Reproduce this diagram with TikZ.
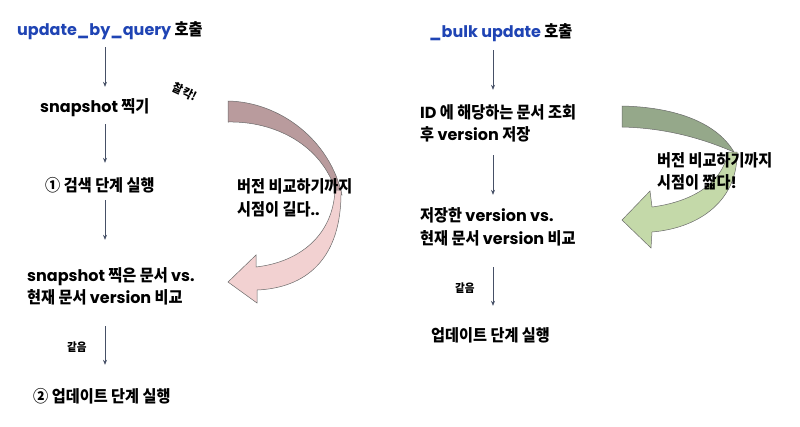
\documentclass[tikz,border=0pt]{standalone}
\usepackage{fontspec}
\setmainfont{Poppins}
\newfontfamily\kr{Noto Sans CJK KR}[FakeStretch=0.92]
\usetikzlibrary{arrows.meta}
\definecolor{qblue}{HTML}{1F44B4}
\definecolor{arrowc}{HTML}{465066}
\definecolor{mauve}{HTML}{B99B9D}
\definecolor{pinkl}{HTML}{F2D1D1}
\definecolor{greend}{HTML}{95A88A}
\definecolor{greenl}{HTML}{C4D9A9}
\definecolor{edgec}{HTML}{6A6A6A}
\newcommand{\hg}[1]{{\kr\fontsize{16.5}{19}\selectfont #1}}
\newcommand{\hs}[1]{{\kr #1}}
\begin{document}
\begin{tikzpicture}[x=1pt,y=-1pt,
  txt/.style={anchor=base west, inner sep=0pt, text height=13pt, text depth=4pt,
    font=\fontsize{16}{19}\selectfont\bfseries, text=black},
  small/.style={anchor=base west, inner sep=0pt, font=\fontsize{11.5}{13}\selectfont\bfseries, text=black},
  flow/.style={draw=arrowc, line width=0.6pt, -{Stealth[length=5pt,width=4pt]}},
  band/.style={draw=edgec, line width=0.5pt, line join=miter}]
\useasboundingbox (0,0) rectangle (800,426);
\coordinate (lx) at (105,0);
\coordinate (rx) at (493,0);

% ---------- curved arrows ----------
% left (mauve / pink)
\path[band, fill=mauve] (228,101) .. controls (280,102) and (330,140) .. (342,195)
  -- (336,192) .. controls (322,145) and (275,121) .. (228,122) -- cycle;
\path[band, fill=pinkl] (341,190) .. controls (342,260) and (305,288) .. (257,290)
  -- (257,303) -- (228,282) -- (256,255) -- (256,267)
  .. controls (300,262) and (333,235) .. (335,190) -- cycle;
% right (green)
\path[band, fill=greend] (622,106) .. controls (670,107) and (715,120) .. (734,152)
  -- (729,150) .. controls (700,138) and (665,128) .. (622,127) -- cycle;
\path[band, fill=greenl] (737,152) .. controls (738,200) and (700,228) .. (652,232)
  -- (651,248) -- (622,220) -- (650,191) -- (652,207)
  .. controls (690,202) and (722,185) .. (728,152) -- cycle;

% ---------- left column ----------
\node[txt] (t1) at (17,35) {\textcolor{qblue}{update\_by\_query} \hg{호출}};
\node[txt] (t2) at (40,112) {snapshot \hg{찍기}};
\node[txt] (t3) at (45,191) {\hg{① 검색 단계 실행}};
\node[txt] (t4a) at (27,281) {snapshot \hg{찍은 문서} vs.};
\node[txt] (t4b) at (27,303) {\hg{현재 문서} version \hg{비교}};
\node[txt] (t5) at (33,402) {\hg{② 업데이트 단계 실행}};
\node[small] (s1) at (67,351) {\hs{같음}};
\node[small, anchor=center, rotate=-25, font=\fontsize{12}{14}\selectfont\bfseries] (click) at (185,92) {\hs{찰칵!}};
\node[txt] (n1a) at (237,192) {\hg{버전 비교하기까지}};
\node[txt] (n1b) at (237,215) {\hg{시점이 길다}..};

\draw[flow, shorten <=8pt, shorten >=12pt] (t1.south -| lx) -- (t2.north -| lx);
\draw[flow, shorten <=8pt, shorten >=15pt] (t2.south -| lx) -- (t3.north -| lx);
\draw[flow, shorten <=5pt, shorten >=28pt] (t3.south -| lx) -- (t4a.north -| lx);
\draw[flow, shorten <=19pt, shorten >=24pt] (t4b.south -| lx) -- (t5.north -| lx);

% ---------- right column ----------
\node[txt] (r1) at (429,37) {\textcolor{qblue}{\_bulk update} \hg{호출}};
\node[txt] (r2a) at (420,118) {ID \hg{에 해당하는 문서 조회}};
\node[txt] (r2b) at (420,140) {\hg{후} version \hg{저장}};
\node[txt] (r3a) at (420,221) {\hg{저장한} version vs.};
\node[txt] (r3b) at (420,244) {\hg{현재 문서} version \hg{비교}};
\node[txt] (r4) at (431,341) {\hg{업데이트 단계 실행}};
\node[small] (s2) at (455,292) {\hs{같음}};
\node[txt] (n2a) at (657,166) {\hg{버전 비교하기까지}};
\node[txt] (n2b) at (657,188) {\hg{시점이 짧다}!};

\draw[flow, shorten <=9pt, shorten >=15pt] (r1.south -| rx) -- (r2a.north -| rx);
\draw[flow, shorten <=11pt, shorten >=13pt] (r2b.south -| rx) -- (r3a.north -| rx);
\draw[flow, shorten <=19pt, shorten >=22pt] (r3b.south -| rx) -- (r4.north -| rx);
\end{tikzpicture}
\end{document}
